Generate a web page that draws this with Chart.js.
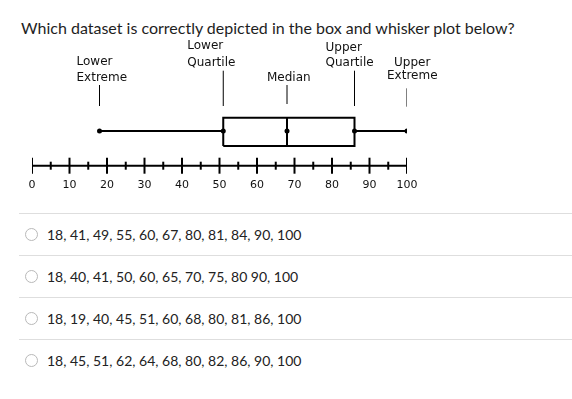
<!DOCTYPE html>
<html>
<head>
<meta charset="utf-8">
<script src="https://cdn.jsdelivr.net/npm/chart.js@4.4.0/dist/chart.umd.min.js"></script>
<style>
  html, body { margin: 0; padding: 0; background: #fff; width: 572px; height: 399px; overflow: hidden; }
  body { position: relative; font-family: Lato, "Open Sans", sans-serif; color: #222; }
  #title { position: absolute; left: 21px; top: 18px; font-size: 16px; line-height: 19px; white-space: nowrap; color: #1e1e1e; }
  #plot { position: absolute; left: 0; top: 0; }
  .opt { position: absolute; left: 19px; right: 0; height: 42px; border-top: 1px solid #dedede; }
  .opt .radio { position: absolute; left: 6px; top: 14px; width: 11px; height: 11px; border: 1px solid #b9b9b9; border-radius: 50%; background: #fff; }
  .opt .txt { position: absolute; left: 28px; top: 12px; font-size: 14px; white-space: nowrap; color: #222; }
</style>
</head>
<body>
<div id="title">Which dataset is correctly depicted in the box and whisker plot below?</div>
<canvas id="plot" width="572" height="200"></canvas>
<div id="opts"></div>
<script>
// ---- data ----
const fiveNumberSummary = [18, 51, 68, 86, 100]; // lower extreme, lower quartile, median, upper quartile, upper extreme
const summaryNames = ["Lower Extreme", "Lower Quartile", "Median", "Upper Quartile", "Upper Extreme"];
const majorTicks = [0, 10, 20, 30, 40, 50, 60, 70, 80, 90, 100];
const minorTicks = [5, 15, 25, 35, 45, 55, 65, 75, 85, 95];
const tickLabels = ["0", "10", "20", "30", "40", "50", "60", "70", "80", "90", "100"];
const answerChoices = [
  "18, 41, 49, 55, 60, 67, 80, 81, 84, 90, 100",
  "18, 40, 41, 50, 60, 65, 70, 75, 80 90, 100",
  "18, 19, 40, 45, 51, 60, 68, 80, 81, 86, 100",
  "18, 45, 51, 62, 64, 68, 80, 82, 86, 90, 100"
];

// ---- layout constants (y in pixel-like units, upward) ----
const Y_AXISLINE = 10.3, Y_BOX_BOTTOM = 30, Y_BOX_TOP = 58.3, Y_WHISKER = 45;
const LEADERS = [ [70, 91], [70, 105.3], [72, 91], [70, 105.3], [69.3, 87.7] ];
const LABEL_LINES = [
  [["Lower", -23, 111], ["Extreme", -23, 95.3]],
  [["Lower", -36, 126.7], ["Quartile", -36, 110.5]],
  [["Median", -20, 95.3]],
  [["Upper", -29, 125.3], ["Quartile", -29, 110]],
  [["Upper", -13, 110.5], ["Extreme", -20, 97]]
];

const [lo, q1, med, q3, hi] = fiveNumberSummary;
const black = '#000';

const datasets = [
  { data: [{x: majorTicks[0], y: Y_AXISLINE}, {x: majorTicks[majorTicks.length-1], y: Y_AXISLINE}],
    showLine: true, borderColor: black, borderWidth: 2, pointRadius: 0 },
  { data: majorTicks.map(v => ({x: v, y: Y_AXISLINE})), showLine: false,
    pointStyle: 'line', rotation: 90, pointRadius: 8, borderColor: black, pointBorderWidth: 2, borderWidth: 2 },
  { data: minorTicks.map(v => ({x: v, y: Y_AXISLINE})), showLine: false,
    pointStyle: 'line', rotation: 90, pointRadius: 4, borderColor: black, pointBorderWidth: 2, borderWidth: 2 },
  { data: [{x: q1, y: Y_BOX_BOTTOM}, {x: q3, y: Y_BOX_BOTTOM}, {x: q3, y: Y_BOX_TOP}, {x: q1, y: Y_BOX_TOP}, {x: q1, y: Y_BOX_BOTTOM}],
    showLine: true, borderColor: black, borderWidth: 2, pointRadius: 0, borderJoinStyle: 'miter' },
  { data: [{x: med, y: Y_BOX_BOTTOM}, {x: med, y: Y_BOX_TOP}], showLine: true, borderColor: black, borderWidth: 2, pointRadius: 0 },
  { data: [{x: lo, y: Y_WHISKER}, {x: q1, y: Y_WHISKER}], showLine: true, borderColor: black, borderWidth: 2, pointRadius: 0 },
  { data: [{x: q3, y: Y_WHISKER}, {x: hi, y: Y_WHISKER}], showLine: true, borderColor: black, borderWidth: 2, pointRadius: 0 },
  { data: fiveNumberSummary.map(v => ({x: v, y: Y_WHISKER})), showLine: false, pointRadius: 2.5,
    backgroundColor: black, borderColor: black, borderWidth: 0 }
];
fiveNumberSummary.forEach((v, i) => {
  datasets.push({ data: [{x: v, y: LEADERS[i][0]}, {x: v, y: LEADERS[i][1]}], showLine: true,
    borderColor: black, borderWidth: 1, pointRadius: 0 });
});

const labelPlugin = {
  id: 'summaryLabels',
  afterDatasetsDraw(chart) {
    const {ctx, scales: {x, y}} = chart;
    ctx.save();
    ctx.fillStyle = '#111';
    ctx.font = '12px "DejaVu Sans", sans-serif';
    ctx.textAlign = 'left';
    ctx.textBaseline = 'alphabetic';
    fiveNumberSummary.forEach((v, i) => {
      LABEL_LINES[i].forEach(([t, dx, yy]) => {
        ctx.fillText(t, x.getPixelForValue(v) + dx, y.getPixelForValue(yy));
      });
    });
    ctx.restore();
  }
};

new Chart(document.getElementById('plot'), {
  type: 'scatter',
  data: { datasets },
  options: {
    responsive: false,
    animation: false,
    events: [],
    layout: { padding: { left: 32, right: 165, top: 30, bottom: 5 } },
    plugins: { legend: { display: false }, tooltip: { enabled: false } },
    scales: {
      x: {
        type: 'linear', min: 0, max: 100,
        border: { display: false },
        grid: { display: false, drawTicks: false },
        ticks: { stepSize: 10, padding: 4, color: '#111',
          font: { family: '"DejaVu Sans", sans-serif', size: 11, lineHeight: 1 },
          callback: (val) => tickLabels[majorTicks.indexOf(val)] ?? '' }
      },
      y: { display: false, min: 0, max: 146 }
    }
  },
  plugins: [labelPlugin]
});

const optsEl = document.getElementById('opts');
answerChoices.forEach((t, i) => {
  const d = document.createElement('div');
  d.className = 'opt';
  d.style.top = (213 + 42 * i) + 'px';
  d.innerHTML = '<span class="radio"></span><span class="txt"></span>';
  d.querySelector('.txt').textContent = t;
  optsEl.appendChild(d);
});
</script>
</body>
</html>
